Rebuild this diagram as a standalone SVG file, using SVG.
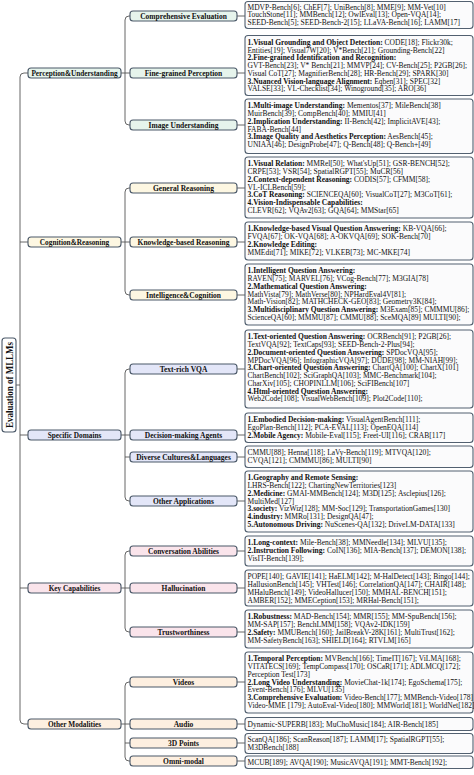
<svg xmlns="http://www.w3.org/2000/svg" width="474" height="775" viewBox="0 0 474 775">
<style>
.t{font-family:"Liberation Serif","Times New Roman",serif;font-size:7.5px;fill:#111}
.b{font-weight:bold}
.lab{font-family:"Liberation Serif","Times New Roman",serif;font-size:7.5px;font-weight:bold;fill:#111;text-anchor:middle}
.l1{font-family:"Liberation Serif","Times New Roman",serif;font-size:7.3px;font-weight:bold;fill:#111;text-anchor:middle}
.tb{fill:#fbfbfc;stroke:#526070;stroke-width:1.1}
.nb{stroke:#4a5868;stroke-width:1.1}
.g1{fill:#e6f4ec}.g2{fill:#fdf7e2}.g3{fill:#e3e6f8}.g4{fill:#fae4eb}.g5{fill:#fdefe0}
.c{fill:none;stroke:#555;stroke-width:0.9}
</style>

<g id="connectors">
<path class="c" d="M16,385H20M28,73H24Q20,73 20,77V720Q20,724 24,724H28M20,242H28M20,435H28M20,588H28"/>
<path class="c" d="M121,73H130M130,16H129Q125,16 125,20V121Q125,125 129,125H130"/>
<path class="c" d="M121,242H130M130,188H129Q125,188 125,192V291Q125,295 129,295H130"/>
<path class="c" d="M121,435H130M130,369H129Q125,369 125,373V497Q125,501 129,501H130M125,457H130"/>
<path class="c" d="M121,588H130M130,551H129Q125,551 125,555V628Q125,632 129,632H130"/>
<path class="c" d="M121,724H130M130,682H129Q125,682 125,686V757Q125,761 129,761H130M125,743H130"/>
<path class="c" d="M237,16H245M237,73H245M237,125H245M237,188H245M237,242H245M237,295H245M237,369H245M237,435H245M237,457H245M237,501H245M237,551H245M237,588H245M237,632H245M237,682H245M237,724H245M237,743H245M237,761H245"/>
</g>

<g id="root">
<rect x="2" y="338" width="14" height="94" rx="3" fill="#fff" class="nb"/>
<text transform="translate(12.5,385) rotate(-90)" text-anchor="middle" font-family="Liberation Serif,serif" font-size="10" font-weight="bold" fill="#111" textLength="86" lengthAdjust="spacingAndGlyphs">Evaluation of MLLMs</text>
</g>

<g id="perception">
<rect x="28" y="68" width="93" height="10" rx="3" class="nb g1"/>
<text class="l1" x="74.5" y="75.6">Perception&amp;Understanding</text>
</g>
<g id="cognition">
<rect x="28" y="237" width="93" height="10" rx="3" class="nb g2"/>
<text class="l1" x="74.5" y="244.6">Cognition&amp;Reasoning</text>
</g>
<g id="specific">
<rect x="28" y="430" width="93" height="10" rx="3" class="nb g3"/>
<text class="l1" x="74.5" y="437.6">Specific Domains</text>
</g>
<g id="key">
<rect x="28" y="583" width="93" height="10" rx="3" class="nb g4"/>
<text class="l1" x="74.5" y="590.6">Key Capabilities</text>
</g>
<g id="other">
<rect x="28" y="719" width="93" height="10" rx="3" class="nb g5"/>
<text class="l1" x="74.5" y="726.6">Other Modalities</text>
</g>

<g id="n-comprehensive">
<rect x="130" y="11" width="107" height="10" rx="3" class="nb g1"/>
<text class="lab" x="183.5" y="18.6">Comprehensive Evaluation</text>
<rect x="245" y="1.5" width="228" height="27" rx="3" class="tb"/>
<text class="t" x="247.5" y="9.5">MDVP-Bench[6]; ChEF[7]; UniBench[8]; MME[9]; MM-Vet[10]</text>
<text class="t" x="247.5" y="17.25">TouchStone[11]; MMBench[12]; OwlEval[13]; Open-VQA[14];</text>
<text class="t" x="247.5" y="25">SEED-Bench[5]; SEED-Bench-2[15]; LLaVA-Bench[16]; LAMM[17]</text>
</g>

<g id="n-finegrained">
<rect x="130" y="68" width="107" height="10" rx="3" class="nb g1"/>
<text class="lab" x="183.5" y="75.6">Fine-grained Perception</text>
<rect x="245" y="35.5" width="228" height="60" rx="3" class="tb"/>
<text class="t" x="247.5" y="44.8"><tspan class="b">1.Visual Grounding and Object Detection:</tspan> CODE[18]; Flickr30k;</text>
<text class="t" x="247.5" y="52.55">Entities[19]; Visual7W[20]; V*Bench[21]; Grounding-Bench[22]</text>
<text class="t" x="247.5" y="60.3"><tspan class="b">2.Fine-grained Identification and Recognition:</tspan></text>
<text class="t" x="247.5" y="68.05">GVT-Bench[23]; V* Bench[21]; MMVP[24]; CV-Bench[25]; P2GB[26];</text>
<text class="t" x="247.5" y="75.8">Visual CoT[27]; MagnifierBench[28]; HR-Bench[29]; SPARK[30]</text>
<text class="t" x="247.5" y="83.55"><tspan class="b">3.Nuanced Vision-language Alignment:</tspan> Eqben[31]; SPEC[32]</text>
<text class="t" x="247.5" y="91.3">VALSE[33]; VL-Checklist[34]; Winoground[35]; ARO[36]</text>
</g>

<g id="n-image">
<rect x="130" y="120" width="107" height="10" rx="3" class="nb g1"/>
<text class="lab" x="183.5" y="127.6">Image Understanding</text>
<rect x="245" y="99" width="228" height="54.5" rx="3" class="tb"/>
<text class="t" x="247.5" y="108.3"><tspan class="b">1.Multi-image Understanding:</tspan> Mementos[37]; MileBench[38]</text>
<text class="t" x="247.5" y="116.05">MuirBench[39]; CompBench[40]; MMIU[41]</text>
<text class="t" x="247.5" y="123.8"><tspan class="b">2.Implication Understanding:</tspan> II-Bench[42]; ImplicitAVE[43];</text>
<text class="t" x="247.5" y="131.55">FABA-Bench[44]</text>
<text class="t" x="247.5" y="139.3"><tspan class="b">3.Image Quality and Aesthetics Perception:</tspan> AesBench[45];</text>
<text class="t" x="247.5" y="147.05">UNIAA[46]; DesignProbe[47]; Q-Bench[48]; Q-Bench+[49]</text>
</g>

<g id="n-general">
<rect x="130" y="183" width="107" height="10" rx="3" class="nb g2"/>
<text class="lab" x="183.5" y="190.6">General Reasoning</text>
<rect x="245" y="157" width="228" height="61" rx="3" class="tb"/>
<text class="t" x="247.5" y="166.3"><tspan class="b">1.Visual Relation:</tspan> MMRel[50]; What'sUp[51]; GSR-BENCH[52];</text>
<text class="t" x="247.5" y="174.05">CRPE[53]; VSR[54]; SpatialRGPT[55]; MuCR[56]</text>
<text class="t" x="247.5" y="181.8"><tspan class="b">2.Context-dependent Reasoning:</tspan> CODIS[57]; CFMM[58];</text>
<text class="t" x="247.5" y="189.55">VL-ICLBench[59];</text>
<text class="t" x="247.5" y="197.3"><tspan class="b">3.CoT Reasoning:</tspan> SCIENCEQA[60]; VisualCoT[27]; M3CoT[61];</text>
<text class="t" x="247.5" y="205.05"><tspan class="b">4.Vision-Indispensable Capabilities:</tspan></text>
<text class="t" x="247.5" y="212.8">CLEVR[62]; VQAv2[63]; GQA[64]; MMStar[65]</text>
</g>

<g id="n-knowledge">
<rect x="130" y="237" width="107" height="10" rx="3" class="nb g2"/>
<text class="lab" x="183.5" y="244.6">Knowledge-based Reasoning</text>
<rect x="245" y="222" width="228" height="38" rx="3" class="tb"/>
<text class="t" x="247.5" y="231.3"><tspan class="b">1.Knowledge-based Visual Question Answering:</tspan> KB-VQA[66];</text>
<text class="t" x="247.5" y="239.05">FVQA[67]; OK-VQA[68]; A-OKVQA[69]; SOK-Bench[70]</text>
<text class="t" x="247.5" y="246.8"><tspan class="b">2.Knowledge Editing:</tspan></text>
<text class="t" x="247.5" y="254.55">MMEdit[71]; MIKE[72]; VLKEB[73]; MC-MKE[74]</text>
</g>

<g id="n-intelligence">
<rect x="130" y="290" width="107" height="10" rx="3" class="nb g2"/>
<text class="lab" x="183.5" y="297.6">Intelligence&amp;Cognition</text>
<rect x="245" y="264" width="228" height="61" rx="3" class="tb"/>
<text class="t" x="247.5" y="273.3"><tspan class="b">1.Intelligent Question Answering:</tspan></text>
<text class="t" x="247.5" y="281.05">RAVEN[75]; MARVEL[76]; VCog-Bench[77]; M3GIA[78]</text>
<text class="t" x="247.5" y="288.8"><tspan class="b">2.Mathematical Question Answering:</tspan></text>
<text class="t" x="247.5" y="296.55">MathVista[79]; MathVerse[80]; NPHardEval4V[81];</text>
<text class="t" x="247.5" y="304.3">Math-Vision[82]; MATHCHECK-GEO[83]; Geometry3K[84];</text>
<text class="t" x="247.5" y="312.05"><tspan class="b">3.Multidisciplinary Question Answering:</tspan> M3Exam[85]; CMMMU[86];</text>
<text class="t" x="247.5" y="319.8">ScienceQA[60]; MMMU[87]; CMMU[88]; SceMQA[89] MULTI[90];</text>
</g>

<g id="n-textrich">
<rect x="130" y="364" width="107" height="10" rx="3" class="nb g3"/>
<text class="lab" x="183.5" y="371.6">Text-rich VQA</text>
<rect x="245" y="330" width="228" height="78" rx="3" class="tb"/>
<text class="t" x="247.5" y="339.3"><tspan class="b">1.Text-oriented Question Answering:</tspan> OCRBench[91]; P2GB[26];</text>
<text class="t" x="247.5" y="347.05">TextVQA[92]; TextCaps[93]; SEED-Bench-2-Plus[94];</text>
<text class="t" x="247.5" y="354.8"><tspan class="b">2.Document-oriented Question Answering:</tspan> SPDocVQA[95];</text>
<text class="t" x="247.5" y="362.55">MPDocVQA[96]; InfographicVQA[97]; DUDE[98]; MM-NIAH[99];</text>
<text class="t" x="247.5" y="370.3"><tspan class="b">3.Chart-oriented Question Answering:</tspan> ChartQA[100]; ChartX[101]</text>
<text class="t" x="247.5" y="378.05">ChartBench[102]; SciGraphQA[103]; MMC-Benchmark[104];</text>
<text class="t" x="247.5" y="385.8">CharXiv[105]; CHOPINLLM[106]; SciFIBench[107]</text>
<text class="t" x="247.5" y="393.55"><tspan class="b">4.Html-oriented Question Answering:</tspan></text>
<text class="t" x="247.5" y="401.3">Web2Code[108]; VisualWebBench[109]; Plot2Code[110];</text>
</g>

<g id="n-decision">
<rect x="130" y="430" width="107" height="10" rx="3" class="nb g3"/>
<text class="lab" x="183.5" y="437.6">Decision-making Agents</text>
<rect x="245" y="413" width="228" height="29.5" rx="3" class="tb"/>
<text class="t" x="247.5" y="422.3"><tspan class="b">1.Embodied Decision-making:</tspan> VisualAgentBench[111];</text>
<text class="t" x="247.5" y="430.05">EgoPlan-Bench[112]; PCA-EVAL[113]; OpenEQA[114]</text>
<text class="t" x="247.5" y="437.8"><tspan class="b">2.Mobile Agency:</tspan> Mobile-Eval[115]; Freet-UI[116]; CRAB[117]</text>
</g>

<g id="n-diverse">
<rect x="130" y="452" width="107" height="10" rx="3" class="nb g3"/>
<text class="lab" x="183.5" y="459.6">Diverse Cultures&amp;Languages</text>
<rect x="245" y="446" width="228" height="21.5" rx="3" class="tb"/>
<text class="t" x="247.5" y="455.3">CMMU[88]; Henna[118]; LaVy-Bench[119]; MTVQA[120];</text>
<text class="t" x="247.5" y="463.05">CVQA[121]; CMMMU[86]; MULTI[90]</text>
</g>

<g id="n-otherapps">
<rect x="130" y="496" width="107" height="10" rx="3" class="nb g3"/>
<text class="lab" x="183.5" y="503.6">Other Applications</text>
<rect x="245" y="471" width="228" height="61" rx="3" class="tb"/>
<text class="t" x="247.5" y="480.3"><tspan class="b">1.Geography and Remote Sensing:</tspan></text>
<text class="t" x="247.5" y="488.05">LHRS-Bench[122]; ChartingNewTerritories[123]</text>
<text class="t" x="247.5" y="495.8"><tspan class="b">2.Medicine:</tspan> GMAI-MMBench[124]; M3D[125]; Asclepius[126];</text>
<text class="t" x="247.5" y="503.55">MultiMed[127]</text>
<text class="t" x="247.5" y="511.3"><tspan class="b">3.society:</tspan> VizWiz[128]; MM-Soc[129]; TransportationGames[130]</text>
<text class="t" x="247.5" y="519.05"><tspan class="b">4.industry:</tspan> MMRo[131]; DesignQA[47];</text>
<text class="t" x="247.5" y="526.8"><tspan class="b">5.Autonomous Driving:</tspan> NuScenes-QA[132]; DriveLM-DATA[133]</text>
</g>

<g id="n-conversation">
<rect x="130" y="546" width="107" height="10" rx="3" class="nb g4"/>
<text class="lab" x="183.5" y="553.6">Conversation Abilities</text>
<rect x="245" y="536" width="228" height="30" rx="3" class="tb"/>
<text class="t" x="247.5" y="545.3"><tspan class="b">1.Long-context:</tspan> Mile-Bench[38]; MMNeedle[134]; MLVU[135];</text>
<text class="t" x="247.5" y="553.05"><tspan class="b">2.Instruction Following:</tspan> CoIN[136]; MIA-Bench[137]; DEMON[138];</text>
<text class="t" x="247.5" y="560.8">VisIT-Bench[139];</text>
</g>

<g id="n-hallucination">
<rect x="130" y="583" width="107" height="10" rx="3" class="nb g4"/>
<text class="lab" x="183.5" y="590.6">Hallucination</text>
<rect x="245" y="570" width="228" height="36" rx="3" class="tb"/>
<text class="t" x="247.5" y="579.3">POPE[140]; GAVIE[141]; HaELM[142]; M-HalDetect[143]; Bingo[144];</text>
<text class="t" x="247.5" y="587.05">HallusionBench[145]; VHTest[146]; CorrelationQA[147]; CHAIR[148];</text>
<text class="t" x="247.5" y="594.8">MHaluBench[149]; VideoHallucer[150]; MMHAL-BENCH[151];</text>
<text class="t" x="247.5" y="602.55">AMBER[152]; MMECeption[153]; MRHal-Bench[151];</text>
</g>

<g id="n-trust">
<rect x="130" y="627" width="107" height="10" rx="3" class="nb g4"/>
<text class="lab" x="183.5" y="634.6">Trustworthiness</text>
<rect x="245" y="610" width="228" height="38" rx="3" class="tb"/>
<text class="t" x="247.5" y="619.3"><tspan class="b">1.Robustness:</tspan> MAD-Bench[154]; MMR[155]; MM-SpuBench[156];</text>
<text class="t" x="247.5" y="627.05">MM-SAP[157]; BenchLMM[158]; VQAv2-IDK[159]</text>
<text class="t" x="247.5" y="634.8"><tspan class="b">2.Safety:</tspan> MMUBench[160]; JailBreakV-28K[161]; MultiTrust[162];</text>
<text class="t" x="247.5" y="642.55">MM-SafetyBench[163]; SHIELD[164]; RTVLM[165]</text>
</g>

<g id="n-videos">
<rect x="130" y="677" width="107" height="10" rx="3" class="nb g5"/>
<text class="lab" x="183.5" y="684.6">Videos</text>
<rect x="245" y="652" width="228" height="61" rx="3" class="tb"/>
<text class="t" x="247.5" y="661.3"><tspan class="b">1.Temporal Perception:</tspan> MVBench[166]; TimeIT[167]; ViLMA[168];</text>
<text class="t" x="247.5" y="669.05">VITATECS[169]; TempCompass[170]; OSCaR[171]; ADLMCQ[172];</text>
<text class="t" x="247.5" y="676.8">Perception Test[173]</text>
<text class="t" x="247.5" y="684.55"><tspan class="b">2.Long Video Understanding:</tspan> MovieChat-1k[174]; EgoSchema[175];</text>
<text class="t" x="247.5" y="692.3">Event-Bench[176]; MLVU[135]</text>
<text class="t" x="247.5" y="700.05"><tspan class="b">3.Comprehensive Evaluation:</tspan> Video-Bench[177]; MMBench-Video[178]</text>
<text class="t" x="247.5" y="707.8">Video-MME [179]; AutoEval-Video[180]; MMWorld[181]; WorldNet[182]</text>
</g>

<g id="n-audio">
<rect x="130" y="719" width="107" height="10" rx="3" class="nb g5"/>
<text class="lab" x="183.5" y="726.6">Audio</text>
<rect x="245" y="717.5" width="228" height="13" rx="3" class="tb"/>
<text class="t" x="247.5" y="726.6">Dynamic-SUPERB[183]; MuChoMusic[184]; AIR-Bench[185]</text>
</g>

<g id="n-3d">
<rect x="130" y="738" width="107" height="10" rx="3" class="nb g5"/>
<text class="lab" x="183.5" y="745.6">3D Points</text>
<rect x="245" y="733.5" width="228" height="20" rx="3" class="tb"/>
<text class="t" x="247.5" y="742.3">ScanQA[186]; ScanReason[187]; LAMM[17]; SpatialRGPT[55];</text>
<text class="t" x="247.5" y="750">M3DBench[188]</text>
</g>

<g id="n-omni">
<rect x="130" y="756" width="107" height="10" rx="3" class="nb g5"/>
<text class="lab" x="183.5" y="763.6">Omni-modal</text>
<rect x="245" y="756" width="228" height="12.5" rx="3" class="tb"/>
<text class="t" x="247.5" y="764.6">MCUB[189]; AVQA[190]; MusicAVQA[191]; MMT-Bench[192];</text>
</g>
</svg>
